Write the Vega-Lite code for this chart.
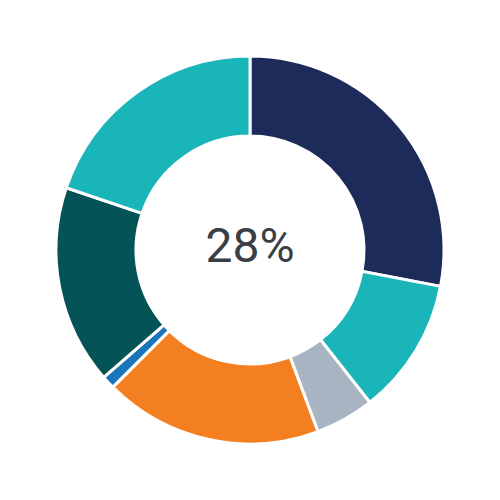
{
  "$schema": "https://vega.github.io/schema/vega-lite/v6.json",
  "width": 500,
  "height": 500,
  "autosize": {"type": "fit", "contains": "padding"},
  "padding": 0,
  "background": "white",
  "view": {"stroke": null},
  "data": {
    "values": [
      {"segment": "A", "idx": 1, "share": 28},
      {"segment": "B", "idx": 2, "share": 11.4},
      {"segment": "C", "idx": 3, "share": 4.9},
      {"segment": "D", "idx": 4, "share": 18.2},
      {"segment": "E", "idx": 5, "share": 1.1},
      {"segment": "F", "idx": 6, "share": 16.6},
      {"segment": "G", "idx": 7, "share": 19.8}
    ]
  },
  "layer": [
    {
      "mark": {"type": "arc", "innerRadius": 114, "outerRadius": 194, "stroke": "white", "strokeWidth": 3},
      "encoding": {
        "theta": {"field": "share", "type": "quantitative", "stack": true},
        "order": {"field": "idx", "type": "quantitative"},
        "color": {
          "field": "segment",
          "type": "nominal",
          "legend": null,
          "scale": {
            "domain": ["A", "B", "C", "D", "E", "F", "G"],
            "range": ["#1c2b5a", "#1ab5b8", "#a9b4c2", "#f47f20", "#1a75bb", "#045457", "#1ab5b8"]
          }
        }
      }
    },
    {
      "data": {"values": [{"label": "28%"}]},
      "mark": {"type": "text", "fontSize": 48, "font": "Roboto", "color": "#3a3f45", "baseline": "middle", "align": "center", "dy": -2},
      "encoding": {"text": {"field": "label"}}
    }
  ]
}
